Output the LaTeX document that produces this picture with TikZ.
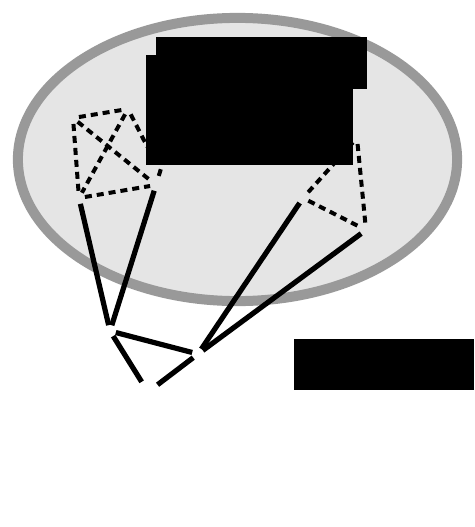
\documentclass[tikz,border=0pt]{standalone}
\begin{document}
\begin{tikzpicture}[x=1pt,y=-1pt,
  dashedge/.style={line width=4pt,dash pattern=on 7pt off 5pt,shorten <=6pt,shorten >=6pt},
  solidedge/.style={line width=5.2pt,shorten <=6pt,shorten >=6pt},
  blackbox/.style={fill=black,draw=none}]
\useasboundingbox (0,0) rectangle (474,527);
\fill[white] (0,0) rectangle (474,527);
% ellipse
\draw[line width=10pt,draw=black!40,fill=black!10] (237.5,159.5) ellipse [x radius=219.6, y radius=141.6];
% coordinates
\coordinate (TL) at (73,118);
\coordinate (T) at (128,109);
\coordinate (H1) at (150,152);
\coordinate (H2) at (166,152);
\coordinate (BR) at (156,185);
\coordinate (BL) at (79,198);
\coordinate (R1) at (357,138);
\coordinate (R2) at (303,198);
\coordinate (R3) at (366,230);
\coordinate (A) at (110,331);
\coordinate (B) at (198,354);
\coordinate (C) at (148,392);
% dashed edges
\draw[dashedge] (TL) -- (T);
\draw[dashedge] (TL) -- (BL);
\draw[dashedge] (TL) -- (BR);
\draw[dashedge] (T) -- (BL);
\draw[dashedge] (T) -- (H1);
\draw[dashedge] (H2) -- (BR);
\draw[dashedge] (BL) -- (BR);
\draw[dashedge] (R1) -- (R2);
\draw[dashedge] (R1) -- (R3);
\draw[dashedge] (R2) -- (R3);
% solid edges
\draw[solidedge] (BL) -- (A);
\draw[solidedge] (BR) -- (A);
\draw[solidedge] (R2) -- (B);
\draw[solidedge] (R3) -- (B);
\draw[solidedge] (A) -- (B);
\draw[solidedge,shorten >=12pt] (A) -- (C);
\draw[solidedge,shorten >=12pt] (B) -- (C);
% black boxes
\node[blackbox,inner sep=0pt,minimum width=211pt,minimum height=52pt,anchor=north west] (box1) at (156,37) {};
\node[blackbox,inner sep=0pt,minimum width=207pt,minimum height=110pt,anchor=north west] (box2) at (146,55) {};
\node[blackbox,inner sep=0pt,minimum width=180pt,minimum height=51pt,anchor=north west] (box3) at (294,339) {};
\end{tikzpicture}
\end{document}
